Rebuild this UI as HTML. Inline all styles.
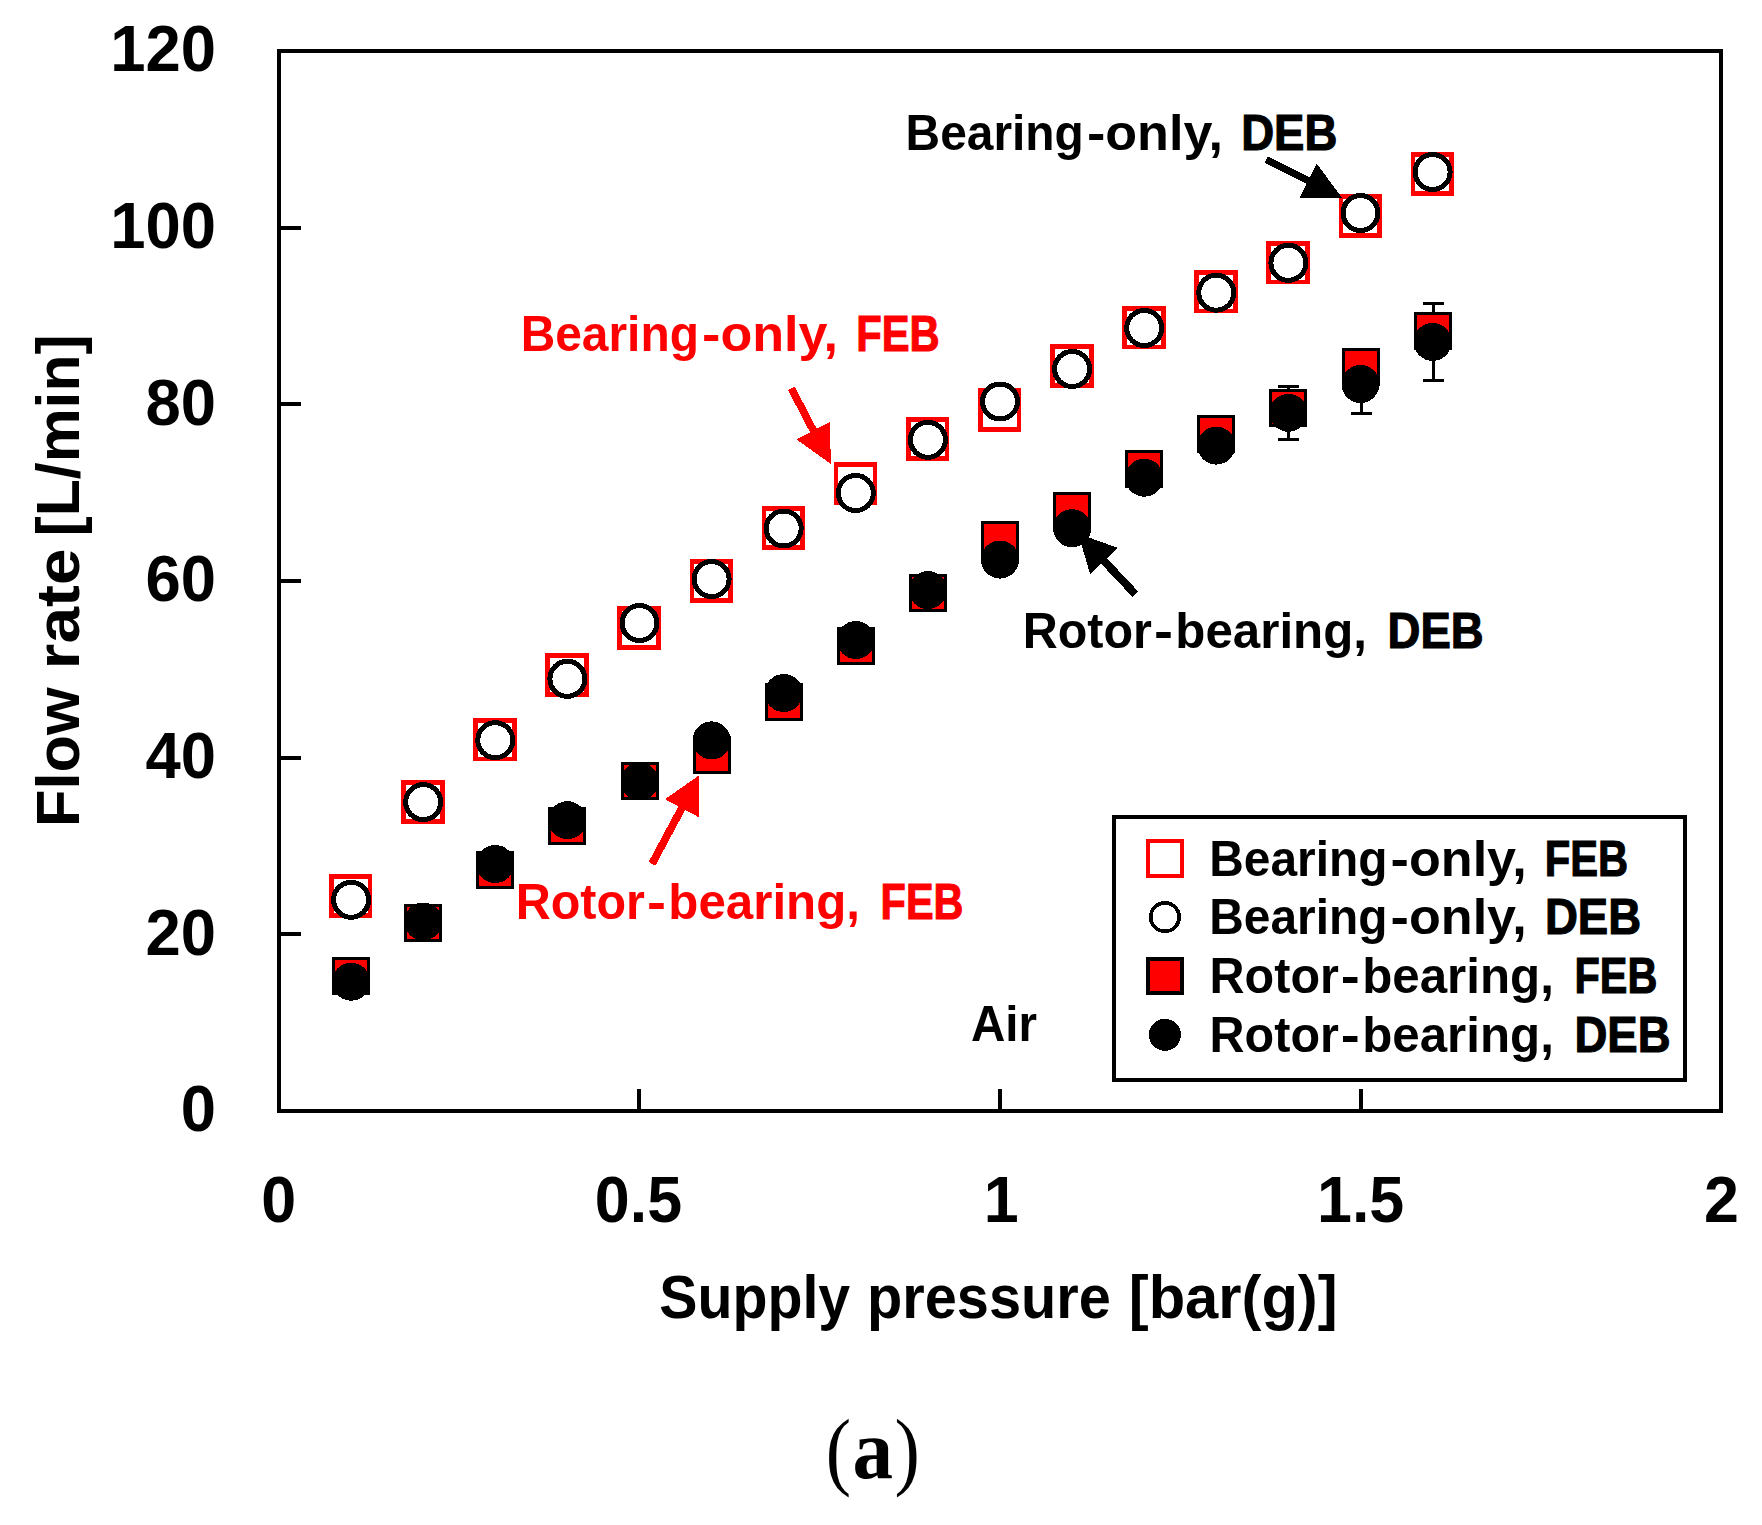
<!DOCTYPE html>
<html lang="en"><head><meta charset="utf-8"><title>Flow rate vs supply pressure</title>
<style>html,body{margin:0;padding:0;background:#fff}body{width:1762px;height:1525px;overflow:hidden}svg{display:block}text{font-family:"Liberation Sans", "DejaVu Sans", sans-serif;font-weight:bold}.ser{font-family:"Liberation Serif", "DejaVu Serif", serif}</style></head><body>
<svg width="1762" height="1525" viewBox="0 0 1762 1525" shape-rendering="crispEdges">
<rect width="1762" height="1525" fill="#fff"/>
<rect x="279" y="51" width="1442" height="1060" fill="none" stroke="#000" stroke-width="4"/>
<g stroke="#000" stroke-width="4">
<line x1="279" y1="934" x2="301" y2="934"/>
<line x1="279" y1="758" x2="301" y2="758"/>
<line x1="279" y1="581" x2="301" y2="581"/>
<line x1="279" y1="404" x2="301" y2="404"/>
<line x1="279" y1="228" x2="301" y2="228"/>
<line x1="639" y1="1111" x2="639" y2="1089"/>
<line x1="1000" y1="1111" x2="1000" y2="1089"/>
<line x1="1361" y1="1111" x2="1361" y2="1089"/>
</g>
<g font-size="64.4" text-anchor="end">
<text transform="translate(216.1 1131.2) scale(0.985 1)">0</text>
<text transform="translate(216.1 954.5) scale(0.985 1)">20</text>
<text transform="translate(216.1 777.9) scale(0.985 1)">40</text>
<text transform="translate(216.1 601.2) scale(0.985 1)">60</text>
<text transform="translate(216.1 424.5) scale(0.985 1)">80</text>
<text transform="translate(216.1 247.9) scale(0.985 1)">100</text>
<text transform="translate(216.1 71.2) scale(0.985 1)">120</text>
</g>
<g font-size="64.4" text-anchor="middle">
<text transform="translate(278.8 1221.7) scale(0.975 1)">0</text>
<text transform="translate(638.5 1221.7) scale(0.975 1)">0.5</text>
<text transform="translate(1001.2 1221.7) scale(0.975 1)">1</text>
<text transform="translate(1360.6 1221.7) scale(0.975 1)">1.5</text>
<text transform="translate(1721.4 1221.7) scale(0.975 1)">2</text>
</g>
<text y="1317.5" font-size="61.5"><tspan x="659.2" textLength="191.0" lengthAdjust="spacingAndGlyphs">Supply</tspan><tspan> </tspan><tspan x="867.0" textLength="243.9" lengthAdjust="spacingAndGlyphs">pressure</tspan><tspan> </tspan><tspan x="1128.8" textLength="208.8" lengthAdjust="spacingAndGlyphs">[bar(g)]</tspan></text>
<text transform="translate(79 0) rotate(-90)" font-size="61.5"><tspan x="-827.1" textLength="139.8" lengthAdjust="spacingAndGlyphs">Flow</tspan><tspan> </tspan><tspan x="-669.2" textLength="120.7" lengthAdjust="spacingAndGlyphs">rate</tspan><tspan> </tspan><tspan x="-536.4" textLength="202.0" lengthAdjust="spacingAndGlyphs">[L/min]</tspan></text>
<g stroke="#000" stroke-width="3" fill="none">
<path d="M1288.9 386.2V439.4M1278.4 386.2h21M1278.4 439.4h21"/>
<path d="M1361.0 354.4V413.6M1350.5 354.4h21M1350.5 413.6h21"/>
<path d="M1433.1 303.4V380.4M1422.6 303.4h21M1422.6 380.4h21"/>
</g>
<g fill="none" stroke="#f00" stroke-width="4.6">
<rect x="331.4" y="876.4" width="38.8" height="38.8"/>
<rect x="403.5" y="782.7" width="38.8" height="38.8"/>
<rect x="475.6" y="720.3" width="38.8" height="38.8"/>
<rect x="547.7" y="655.6" width="38.8" height="38.8"/>
<rect x="619.8" y="608.5" width="38.8" height="38.8"/>
<rect x="691.9" y="561.4" width="38.8" height="38.8"/>
<rect x="764.0" y="508.7" width="38.8" height="38.8"/>
<rect x="836.1" y="464.4" width="38.8" height="38.8"/>
<rect x="908.2" y="419.5" width="38.8" height="38.8"/>
<rect x="980.3" y="390.6" width="38.8" height="38.8"/>
<rect x="1052.4" y="346.5" width="38.8" height="38.8"/>
<rect x="1124.5" y="308.4" width="38.8" height="38.8"/>
<rect x="1196.6" y="272.4" width="38.8" height="38.8"/>
<rect x="1268.7" y="243.3" width="38.8" height="38.8"/>
<rect x="1340.8" y="196.5" width="38.8" height="38.8"/>
<rect x="1412.9" y="154.7" width="38.8" height="38.8"/>
</g>
<g fill="#fff" stroke="#000" stroke-width="5">
<circle cx="351.1" cy="899.8" r="17.5"/>
<circle cx="423.2" cy="802.1" r="17.5"/>
<circle cx="495.3" cy="740.2" r="17.5"/>
<circle cx="567.4" cy="678.8" r="17.5"/>
<circle cx="639.5" cy="623.0" r="17.5"/>
<circle cx="711.6" cy="579.1" r="17.5"/>
<circle cx="783.7" cy="528.5" r="17.5"/>
<circle cx="855.8" cy="493.0" r="17.5"/>
<circle cx="927.9" cy="439.8" r="17.5"/>
<circle cx="1000.0" cy="401.5" r="17.5"/>
<circle cx="1072.1" cy="369.0" r="17.5"/>
<circle cx="1144.2" cy="328.0" r="17.5"/>
<circle cx="1216.3" cy="292.7" r="17.5"/>
<circle cx="1288.4" cy="262.8" r="17.5"/>
<circle cx="1360.5" cy="213.0" r="17.5"/>
<circle cx="1432.6" cy="172.0" r="17.5"/>
</g>
<g fill="#f00" stroke="#000" stroke-width="3">
<rect x="333.6" y="958.5" width="35" height="35"/>
<rect x="405.7" y="905.1" width="35" height="35"/>
<rect x="477.8" y="852.8" width="35" height="35"/>
<rect x="549.9" y="808.4" width="35" height="35"/>
<rect x="622.0" y="763.9" width="35" height="35"/>
<rect x="694.1" y="737.0" width="35" height="35"/>
<rect x="766.2" y="684.3" width="35" height="35"/>
<rect x="838.3" y="628.3" width="35" height="35"/>
<rect x="910.4" y="575.5" width="35" height="35"/>
<rect x="982.5" y="522.8" width="35" height="35"/>
<rect x="1054.6" y="493.6" width="35" height="35"/>
<rect x="1126.7" y="451.6" width="35" height="35"/>
<rect x="1198.8" y="416.3" width="35" height="35"/>
<rect x="1270.9" y="390.7" width="35" height="35"/>
<rect x="1343.0" y="349.3" width="35" height="35"/>
<rect x="1415.1" y="313.8" width="35" height="35"/>
</g>
<g fill="#000">
<circle cx="351.1" cy="981.7" r="19"/>
<circle cx="423.2" cy="921.5" r="19"/>
<circle cx="495.3" cy="864.0" r="19"/>
<circle cx="567.4" cy="820.2" r="19"/>
<circle cx="639.5" cy="781.4" r="19"/>
<circle cx="711.6" cy="740.4" r="19"/>
<circle cx="783.7" cy="693.0" r="19"/>
<circle cx="855.8" cy="640.0" r="19"/>
<circle cx="927.9" cy="590.1" r="19"/>
<circle cx="1000.0" cy="559.6" r="19"/>
<circle cx="1072.1" cy="528.2" r="19"/>
<circle cx="1144.2" cy="477.7" r="19"/>
<circle cx="1216.3" cy="445.6" r="19"/>
<circle cx="1288.4" cy="412.8" r="19"/>
<circle cx="1360.5" cy="384.0" r="19"/>
<circle cx="1432.6" cy="341.9" r="19"/>
</g>
<line x1="1266.1" y1="159.5" x2="1310.1" y2="181.6" stroke="#000" stroke-width="6.8"/><polygon points="1341.8,197.5 1299.8,197.7 1316.8,163.7" fill="#000"/>
<line x1="791.3" y1="388.2" x2="814.3" y2="432.4" stroke="#f00" stroke-width="7.6"/><polygon points="830.7,463.9 796.5,439.4 830.2,421.9" fill="#f00"/>
<line x1="1135.4" y1="594.3" x2="1102.6" y2="559.5" stroke="#000" stroke-width="8"/><polygon points="1078.2,533.7 1117.8,547.9 1090.1,574.0" fill="#000"/>
<line x1="652.0" y1="863.8" x2="682.7" y2="806.4" stroke="#f00" stroke-width="7.7"/><polygon points="699.5,775.1 698.5,817.1 665.0,799.2" fill="#f00"/>
<text y="150.0" font-size="49.5" fill="#000"><tspan x="905.6" textLength="178.2" lengthAdjust="spacingAndGlyphs">Bearing</tspan><tspan x="1086.9" textLength="18.4" lengthAdjust="spacingAndGlyphs">-</tspan><tspan x="1105.3" textLength="117.7" lengthAdjust="spacingAndGlyphs">only,</tspan><tspan> </tspan><tspan x="1241.2" textLength="96.2" lengthAdjust="spacingAndGlyphs" stroke="#000" stroke-width="1.1">DEB</tspan></text>
<text y="350.9" font-size="49.5" fill="#f00"><tspan x="520.7" textLength="178.2" lengthAdjust="spacingAndGlyphs">Bearing</tspan><tspan x="702.0" textLength="18.4" lengthAdjust="spacingAndGlyphs">-</tspan><tspan x="720.4" textLength="117.7" lengthAdjust="spacingAndGlyphs">only,</tspan><tspan> </tspan><tspan x="856.2" textLength="83.4" lengthAdjust="spacingAndGlyphs" stroke="#f00" stroke-width="1.1">FEB</tspan></text>
<text y="647.9" font-size="49.5" fill="#000"><tspan x="1022.7" textLength="129.3" lengthAdjust="spacingAndGlyphs">Rotor</tspan><tspan x="1153.9" textLength="19.0" lengthAdjust="spacingAndGlyphs">-</tspan><tspan x="1175.3" textLength="191.7" lengthAdjust="spacingAndGlyphs">bearing,</tspan><tspan> </tspan><tspan x="1387.6" textLength="96.1" lengthAdjust="spacingAndGlyphs" stroke="#000" stroke-width="1.1">DEB</tspan></text>
<text y="919.0" font-size="49.5" fill="#f00"><tspan x="515.7" textLength="129.3" lengthAdjust="spacingAndGlyphs">Rotor</tspan><tspan x="646.9" textLength="19.0" lengthAdjust="spacingAndGlyphs">-</tspan><tspan x="668.3" textLength="191.7" lengthAdjust="spacingAndGlyphs">bearing,</tspan><tspan> </tspan><tspan x="880.6" textLength="82.9" lengthAdjust="spacingAndGlyphs" stroke="#f00" stroke-width="1.1">FEB</tspan></text>
<text x="971" y="1040.8" font-size="49.5" textLength="66" lengthAdjust="spacingAndGlyphs">Air</text>
<rect x="1114" y="817" width="571" height="263" fill="#fff" stroke="#000" stroke-width="4"/>
<rect x="1148" y="840.5" width="34" height="35" fill="none" stroke="#f00" stroke-width="4"/>
<circle cx="1164.9" cy="917.1" r="14.2" fill="#fff" stroke="#000" stroke-width="3.7"/>
<rect x="1148" y="959" width="34" height="34" fill="#f00" stroke="#000" stroke-width="4"/>
<circle cx="1164.9" cy="1034.8" r="16" fill="#000"/>
<text y="875.8" font-size="49.5" fill="#000"><tspan x="1209.3" textLength="178.2" lengthAdjust="spacingAndGlyphs">Bearing</tspan><tspan x="1390.6" textLength="18.4" lengthAdjust="spacingAndGlyphs">-</tspan><tspan x="1409.0" textLength="117.7" lengthAdjust="spacingAndGlyphs">only,</tspan><tspan> </tspan><tspan x="1544.8" textLength="83.4" lengthAdjust="spacingAndGlyphs" stroke="#000" stroke-width="1.1">FEB</tspan></text>
<text y="933.9" font-size="49.5" fill="#000"><tspan x="1209.3" textLength="178.2" lengthAdjust="spacingAndGlyphs">Bearing</tspan><tspan x="1390.6" textLength="18.4" lengthAdjust="spacingAndGlyphs">-</tspan><tspan x="1409.0" textLength="117.7" lengthAdjust="spacingAndGlyphs">only,</tspan><tspan> </tspan><tspan x="1544.9" textLength="96.2" lengthAdjust="spacingAndGlyphs" stroke="#000" stroke-width="1.1">DEB</tspan></text>
<text y="993.1" font-size="49.5" fill="#000"><tspan x="1209.6" textLength="129.3" lengthAdjust="spacingAndGlyphs">Rotor</tspan><tspan x="1340.8" textLength="19.0" lengthAdjust="spacingAndGlyphs">-</tspan><tspan x="1362.2" textLength="191.7" lengthAdjust="spacingAndGlyphs">bearing,</tspan><tspan> </tspan><tspan x="1574.5" textLength="82.9" lengthAdjust="spacingAndGlyphs" stroke="#000" stroke-width="1.1">FEB</tspan></text>
<text y="1051.9" font-size="49.5" fill="#000"><tspan x="1209.6" textLength="129.3" lengthAdjust="spacingAndGlyphs">Rotor</tspan><tspan x="1340.8" textLength="19.0" lengthAdjust="spacingAndGlyphs">-</tspan><tspan x="1362.2" textLength="191.7" lengthAdjust="spacingAndGlyphs">bearing,</tspan><tspan> </tspan><tspan x="1574.5" textLength="96.1" lengthAdjust="spacingAndGlyphs" stroke="#000" stroke-width="1.1">DEB</tspan></text>
<text class="ser" transform="translate(825.7 1478.6) scale(0.88 1)" font-size="86.4" style="font-weight:normal">(</text>
<text class="ser" transform="translate(852.6 1478) scale(0.955 1)" font-size="85">a</text>
<text class="ser" transform="translate(894.5 1478.6) scale(0.88 1)" font-size="86.4" style="font-weight:normal">)</text>
</svg></body></html>
